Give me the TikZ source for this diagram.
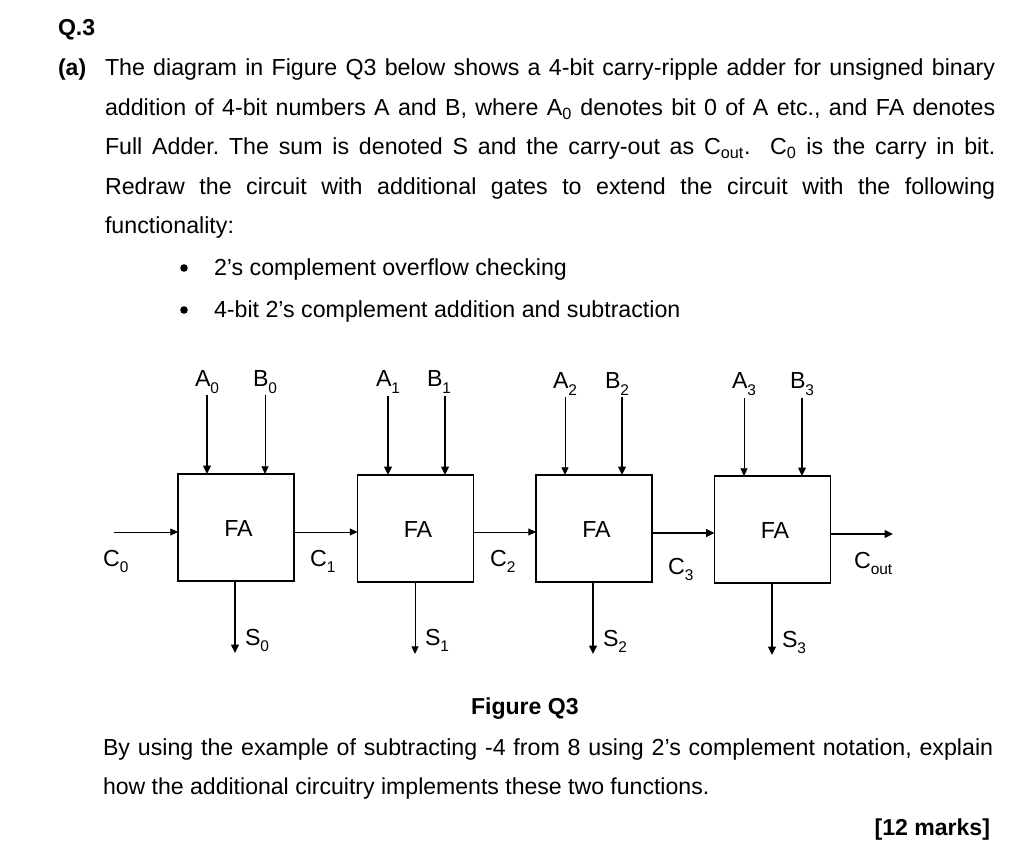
\documentclass[tikz,border=0pt]{standalone}
\usepackage{fontspec}
\setmainfont{Liberation Sans}
\usetikzlibrary{arrows.meta}
\frenchspacing
\newcommand{\falabel}{\hspace*{3.5pt}\raisebox{-6.5pt}[0pt][0pt]{FA}}
\newcommand{\lowsub}[1]{\raisebox{-4.3pt}{\fontsize{11}{11}\selectfont #1}}
\tikzset{
	txt/.style={anchor=base west,inner sep=0pt,outer sep=0pt,font=\fontsize{16.5}{20}\selectfont},
	txtb/.style={txt,font=\fontsize{16.4}{20}\selectfont\bfseries},
	txts/.style={txt,font=\fontsize{16.4}{20}\selectfont},
	lbl/.style={txt},
	listdot/.style={circle,fill,inner sep=0pt,minimum size=0.19cm},
	fabox/.style={draw,line width=1pt,minimum width=2.9cm,minimum height=2.675cm,inner sep=0pt,outer sep=0pt,font=\fontsize{16.5}{20}\selectfont},
	wire/.style={line width=0.7pt,-{Triangle[length=5.5pt,width=5pt]}},
	wireb/.style={line width=1.1pt,-{Triangle[length=6pt,width=5.5pt]}}
}
\begin{document}
\begin{tikzpicture}[x=0.025cm,y=-0.025cm]
	\useasboundingbox (0,0) rectangle (1024,845);
	
	\node[txtb] (qno) at (58,36) {Q.3};
	\node[txtb] (part) at (58,76) {(a)};
	\node[txt] (l1) at (105,76) {\makebox[22.25cm][s]{The diagram in Figure Q3 below shows a 4-bit carry-ripple adder for unsigned binary}};
	\node[txt] (l2) at (105,116) {\makebox[22.25cm][s]{addition of 4-bit numbers A and B, where A\textsubscript{0} denotes bit 0 of A etc., and FA denotes}};
	\node[txt] (l3) at (105,155) {\makebox[22.25cm][s]{Full Adder. The sum is denoted S and the carry-out as C\textsubscript{out}.\ \ C\textsubscript{0} is the carry in bit.}};
	\node[txt] (l4) at (105,195) {\makebox[22.25cm][s]{Redraw the circuit with additional gates to extend the circuit with the following}};
	\node[txt] (l5) at (105,234) {functionality:};
	\node[listdot] (dot1) at (184,268) {};
	\node[txt] (item1) at (214,276) {2’s complement overflow checking};
	\node[listdot] (dot2) at (184,310) {};
	\node[txt] (item2) at (214,318) {4-bit 2’s complement addition and subtraction};
	
	\node[fabox] (fa0) at (236,527.5) {\falabel};
	\node[fabox] (fa1) at (415.5,528.5) {\falabel};
	\node[fabox] (fa2) at (594,528.5) {\falabel};
	\node[fabox] (fa3) at (772.5,529.5) {\falabel};
	
	\node[lbl] (a0) at (195,387) {A\lowsub{0}};
	\node[lbl] (b0) at (253,387) {B\lowsub{0}};
	\node[lbl] (a1) at (376,387) {A\lowsub{1}};
	\node[lbl] (b1) at (427,387) {B\lowsub{1}};
	\node[lbl] (a2) at (553,389) {A\lowsub{2}};
	\node[lbl] (b2) at (605,389) {B\lowsub{2}};
	\node[lbl] (a3) at (732,389) {A\lowsub{3}};
	\node[lbl] (b3) at (790,389) {B\lowsub{3}};
	\node[lbl] (c0) at (103,566) {C\lowsub{0}};
	\node[lbl] (c1) at (310,566) {C\lowsub{1}};
	\node[lbl] (c2) at (490,566) {C\lowsub{2}};
	\node[lbl] (c3) at (668,574) {C\lowsub{3}};
	\node[lbl] (cout) at (854,568) {C\lowsub{out}};
	\node[lbl] (s0) at (245,645) {S\lowsub{0}};
	\node[lbl] (s1) at (425,645) {S\lowsub{1}};
	\node[lbl] (s2) at (603,646) {S\lowsub{2}};
	\node[lbl] (s3) at (782,647) {S\lowsub{3}};
	
	\coordinate (ina0) at (207,395);
	\coordinate (inb0) at (265,395);
	\coordinate (ina1) at (388,396);
	\coordinate (inb1) at (445,396);
	\coordinate (ina2) at (565,397);
	\coordinate (inb2) at (622,397);
	\coordinate (ina3) at (744,398);
	\coordinate (inb3) at (802,398);
	\coordinate (inc0) at (114,532);
	\coordinate (midc3) at (683,533);
	\coordinate (outc) at (893,534);
	\coordinate (outs0) at (235,653);
	\coordinate (outs1) at (415,654);
	\coordinate (outs2) at (593,654);
	\coordinate (outs3) at (772,655);
	
	\draw[wireb] (ina0) -- (ina0 |- fa0.north);
	\draw[wire] (inb0) -- (inb0 |- fa0.north);
	\draw[wireb] (ina1) -- (ina1 |- fa1.north);
	\draw[wireb] (inb1) -- (inb1 |- fa1.north);
	\draw[wire] (ina2) -- (ina2 |- fa2.north);
	\draw[wireb] (inb2) -- (inb2 |- fa2.north);
	\draw[wire] (ina3) -- (ina3 |- fa3.north);
	\draw[wireb] (inb3) -- (inb3 |- fa3.north);
	
	\draw[wire] (inc0) -- (inc0 -| fa0.west);
	\draw[wire] (fa0.east |- inc0) -- (inc0 -| fa1.west);
	\draw[wire] (fa1.east |- inc0) -- (inc0 -| fa2.west);
	\draw[wireb] (fa2.east |- midc3) -- (midc3 -| fa3.west);
	\draw[wireb] (fa3.east |- outc) -- (outc);
	
	\draw[wireb] (outs0 |- fa0.south) -- (outs0);
	\draw[wire] (outs1 |- fa1.south) -- (outs1);
	\draw[wireb] (outs2 |- fa2.south) -- (outs2);
	\draw[wireb] (outs3 |- fa3.south) -- (outs3);
	
	\node[txtb] (figcap) at (471,714) {Figure Q3};
	\node[txt] (l6) at (103,755) {\makebox[22.25cm][s]{By using the example of subtracting -4 from 8 using 2’s complement notation, explain}};
	\node[txts] (l7) at (103,794) {how the additional circuitry implements these two functions.};
	\node[txtb,anchor=base east] (marks) at (990,835) {[12 marks]};
\end{tikzpicture}
\end{document}
